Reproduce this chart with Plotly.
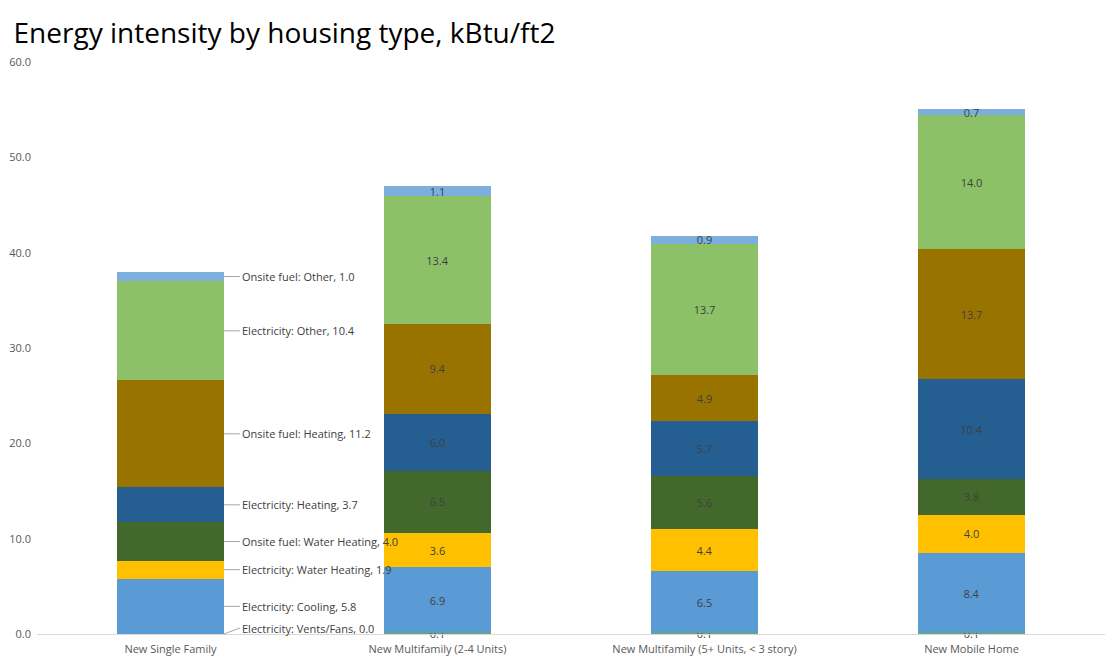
import plotly.graph_objects as go

categories = ['New Single Family', 'New Multifamily (2-4 Units)', 'New Multifamily (5+ Units, < 3 story)', 'New Mobile Home']

series_names = ['Electricity: Vents/Fans', 'Electricity: Cooling', 'Electricity: Water Heating', 'Onsite fuel: Water Heating',
                'Electricity: Heating', 'Onsite fuel: Heating', 'Electricity: Other', 'Onsite fuel: Other']

vents_fans = [0.0, 0.1, 0.1, 0.1]
cooling = [5.8, 6.9, 6.5, 8.4]
elec_water = [1.9, 3.6, 4.4, 4.0]
fuel_water = [4.0, 6.5, 5.6, 3.8]
elec_heating = [3.7, 6.0, 5.7, 10.4]
fuel_heating = [11.2, 9.4, 4.9, 13.7]
elec_other = [10.4, 13.4, 13.7, 14.0]
fuel_other = [1.0, 1.1, 0.9, 0.7]

series_values = [vents_fans, cooling, elec_water, fuel_water, elec_heating, fuel_heating, elec_other, fuel_other]
colors = ['#70AD47', '#5B9BD5', '#FFC000', '#43682B', '#255E91', '#997300', '#8CC168', '#7CAFDD']

font = 'Open Sans'

fig = go.Figure()
for name, vals, col in zip(series_names, series_values, colors):
    # first bar gets callout labels instead of inside labels
    texts = [''] + ['%.1f' % v for v in vals[1:]]
    fig.add_trace(go.Bar(x=categories, y=vals, name=name, marker=dict(color=col, line=dict(width=0)),
                         text=texts, textposition='inside', insidetextanchor='middle',
                         textfont=dict(color='#404040', size=11, family=font),
                         constraintext='none', cliponaxis=False))

# callouts for New Single Family
base = 0
for name, vals in zip(series_names, series_values):
    v = vals[0]
    mid = base + v / 2
    base += v
    ay = -6 if v == 0 else 0
    fig.add_annotation(x=0.2, y=mid, xref='x', yref='y', text='%s, %.1f' % (name, v),
                       showarrow=True, arrowhead=0, arrowwidth=1, arrowcolor='#A6A6A6',
                       ax=16, ay=ay, xanchor='left', yanchor='middle',
                       font=dict(size=11, color='#404040', family=font))

# page body adds ~8px offset, margins compensate for it
fig.update_layout(
    width=1114, height=660,
    barmode='stack', bargap=0.6,
    showlegend=False,
    plot_bgcolor='white', paper_bgcolor='white',
    margin=dict(l=29, r=17, t=54, b=34),
    title=dict(text='Energy intensity by housing type, kBtu/ft2', x=0.005, xanchor='left', y=0.962, yanchor='middle',
               font=dict(size=28, color='black', family=font)),
    uniformtext=dict(mode='show', minsize=11),
    font=dict(family=font, color='#595959', size=11),
)
fig.update_yaxes(range=[0, 60], dtick=10, tickformat='.1f', showgrid=False, zeroline=False, automargin=False,
                 tickfont=dict(size=11, color='#595959'), ticks='', showline=False, ticklabelstandoff=5)
fig.update_xaxes(showline=True, linecolor='#D9D9D9', linewidth=1, ticks='', ticklabelstandoff=5, automargin=False,
                 tickfont=dict(size=11, color='#595959'))

fig.write_html('out.html')
